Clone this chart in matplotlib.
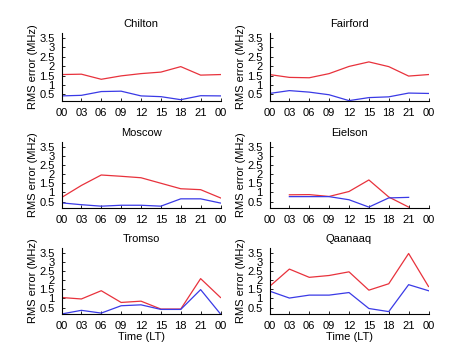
import numpy as np
import matplotlib
matplotlib.use("Agg")
import matplotlib.pyplot as plt

plt.rcParams['font.family'] = ['Liberation Sans', 'DejaVu Sans']

hours = [0, 3, 6, 9, 12, 15, 18, 21, 24]
tick_labels = ["00", "03", "06", "09", "12", "15", "18", "21", "00"]
nan = np.nan

stations = ["Chilton", "Fairford", "Moscow", "Eielson", "Tromso", "Qaanaaq"]

chilton_red = [1.55, 1.57, 1.30, 1.48, 1.60, 1.68, 1.97, 1.52, 1.55]
chilton_blue = [0.42, 0.45, 0.65, 0.67, 0.42, 0.38, 0.22, 0.43, 0.42]
fairford_red = [1.55, 1.40, 1.38, 1.60, 1.98, 2.22, 1.97, 1.47, 1.55]
fairford_blue = [0.55, 0.70, 0.62, 0.48, 0.17, 0.33, 0.37, 0.57, 0.55]
moscow_red = [0.72, 1.38, 1.95, 1.88, 1.80, 1.50, 1.20, 1.15, 0.70]
moscow_blue = [0.43, 0.33, 0.25, 0.30, 0.30, 0.25, 0.65, 0.65, 0.42]
eielson_red = [nan, 0.87, 0.88, 0.78, 1.05, 1.68, 0.75, 0.20, nan]
eielson_blue = [nan, 0.77, 0.77, 0.77, 0.60, 0.20, 0.70, 0.73, nan]
tromso_red = [1.05, 0.97, 1.42, 0.78, 0.85, 0.42, 0.42, 2.08, 1.05]
tromso_blue = [0.15, 0.35, 0.20, 0.60, 0.65, 0.40, 0.40, 1.48, 0.15]
qaanaaq_red = [1.65, 2.60, 2.15, 2.25, 2.45, 1.45, 1.80, 3.45, 1.65]
qaanaaq_blue = [1.40, 1.02, 1.18, 1.18, 1.32, 0.45, 0.28, 1.75, 1.42]

reds = [chilton_red, fairford_red, moscow_red, eielson_red, tromso_red, qaanaaq_red]
blues = [chilton_blue, fairford_blue, moscow_blue, eielson_blue, tromso_blue, qaanaaq_blue]

yticks = [0.5, 1, 1.5, 2, 2.5, 3, 3.5]
ytick_labels = ["0.5", "1", "1.5", "2", "2.5", "3", "3.5"]

W, H = 474, 355
fig = plt.figure(figsize=(W / 100, H / 100), dpi=100)

lefts = [61.5, 269.5]
rows = [(33, 101), (142, 208), (248, 314)]
fs = 8

for i, name in enumerate(stations):
    r, c = divmod(i, 2)
    top, bot = rows[r]
    ax = fig.add_axes([lefts[c] / W, (H - bot) / H, 159 / W, (bot - top) / H])
    ax.plot(hours, reds[i], color='#e8323c', lw=0.9)
    ax.plot(hours, blues[i], color='#3a3ae6', lw=0.9)
    ax.set_xlim(0, 24)
    ax.set_ylim(0.15, 3.75)
    ax.set_xticks(hours)
    ax.set_xticklabels(tick_labels, fontsize=fs)
    ax.set_yticks(yticks)
    ax.set_yticklabels(ytick_labels, fontsize=fs)
    ax.tick_params(direction='in', length=2, width=0.6, pad=5)
    ax.spines['top'].set_visible(False)
    ax.spines['right'].set_visible(False)
    ax.spines['left'].set_linewidth(0.8)
    ax.spines['bottom'].set_linewidth(0.8)
    ax.set_title(name, fontsize=fs, pad=4)
    ax.set_ylabel("RMS error (MHz)", fontsize=fs, labelpad=0.5)
    if r == 2:
        ax.set_xlabel("Time (LT)", fontsize=fs, labelpad=0.5)

fig.savefig("out.png", dpi=100)
